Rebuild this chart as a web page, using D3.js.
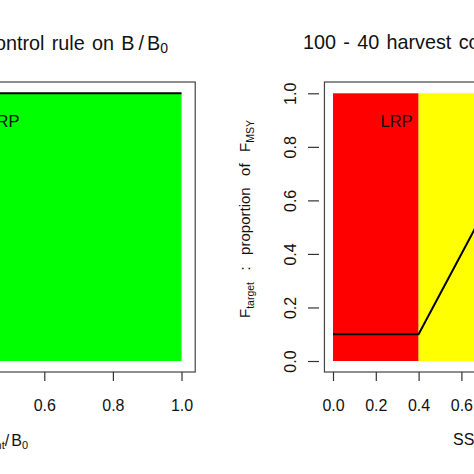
<!DOCTYPE html>
<html>
<head>
<meta charset="utf-8">
<script src="https://cdn.jsdelivr.net/npm/d3@7"></script>
<style>
  body { margin: 0; background: #fff; }
  text { font-family: "Liberation Sans", Arial, sans-serif; fill: #111; }
</style>
</head>
<body>
<svg id="chart" width="474" height="474"></svg>
<script>
// Two harvest control rule panels (cropped).

const xTicks = [0, 0.2, 0.4, 0.6, 0.8, 1.0];
const yTicks = [0, 0.2, 0.4, 0.6, 0.8, 1.0];

// left panel: constant rule on B/B0
const leftZoneFrom = [0];
const leftZoneTo = [1];
const leftZoneColor = ["#00ff00"];
const leftRuleX = [0, 1];
const leftRuleY = [1, 1];
const leftLrpLabelX = 0.545;

// right panel: 100 - 40 rule
const rightZoneFrom = [0, 0.4];
const rightZoneTo = [0.4, 1];
const rightZoneColor = ["#ff0000", "#ffff00"];
const rightRuleX = [0, 0.4, 1.0];
const rightRuleY = [0.1, 0.1, 1.0];
const rightLrpLabelX = 0.4;

const svg = d3.select("#chart");

// shared vertical scale
const y = d3.scaleLinear().domain([0, 1]).range([361, 93.3]);
const boxTop = 82, boxBottom = 372;

function panel(opts) {
    const x = d3.scaleLinear().domain([0, 1]).range(opts.range);
    const g = svg.append("g");

    // coloured zones
    g.selectAll("rect.zone")
        .data(opts.from.map((f, i) => ({from: f, to: opts.to[i], color: opts.colors[i]})))
        .enter().append("rect")
        .attr("class", "zone")
        .attr("x", d => x(d.from))
        .attr("width", d => x(d.to) - x(d.from))
        .attr("y", y(1))
        .attr("height", y(0) - y(1))
        .attr("fill", d => d.color);

    // the rule line
    let line = d3.line().x(d => x(d[0])).y(d => y(d[1]));
    g.append("path")
        .datum(opts.ruleX.map((v, i) => [v, opts.ruleY[i]]))
        .attr("d", line)
        .attr("fill", "none")
        .attr("stroke", "#000")
        .attr("stroke-width", 2);

    // LRP label
    g.append("text")
        .attr("x", x(opts.lrpX) - 6)
        .attr("y", y(0.875))
        .attr("text-anchor", "end")
        .attr("font-size", "16.5px")
        .text("LRP");

    // plot box
    const pad = (opts.range[1] - opts.range[0]) * 0.04;
    g.append("rect")
        .attr("x", opts.range[0] - pad)
        .attr("y", boxTop)
        .attr("width", opts.range[1] - opts.range[0] + 2 * pad)
        .attr("height", boxBottom - boxTop)
        .attr("fill", "none")
        .attr("stroke", "#444")
        .attr("stroke-width", 1.2);

    // x axis
    g.append("g")
        .attr("transform", `translate(0,${boxBottom})`)
        .call(d3.axisBottom(x).tickValues(xTicks).tickSize(9).tickPadding(19)
            .tickFormat(d3.format(".1f")))
        .call(a => a.select(".domain").remove())
        .call(a => a.selectAll("line").attr("stroke", "#333").attr("stroke-width", 1.2))
        .call(a => a.selectAll("text").attr("font-size", "16px")
            .attr("font-family", "Liberation Sans, Arial, sans-serif").attr("fill", "#111"));

    return x;
}

const xl = panel({
    range: [-161.5, 181.5],
    from: leftZoneFrom, to: leftZoneTo, colors: leftZoneColor,
    ruleX: leftRuleX, ruleY: leftRuleY, lrpX: leftLrpLabelX
});

const xr = panel({
    range: [333, 547],
    from: rightZoneFrom, to: rightZoneTo, colors: rightZoneColor,
    ruleX: rightRuleX, ruleY: rightRuleY, lrpX: rightLrpLabelX
});

// y axis on the right panel only (left one is cropped away)
const yAxis = svg.append("g")
    .attr("transform", "translate(319,0)")
    .call(d3.axisLeft(y).tickValues(yTicks).tickSize(11).tickPadding(12)
        .tickFormat(d3.format(".1f")));
yAxis.select(".domain").remove();
yAxis.selectAll("line").attr("stroke", "#333").attr("stroke-width", 1.2);
yAxis.selectAll("text")
    .attr("font-size", "16px")
    .attr("font-family", "Liberation Sans, Arial, sans-serif")
    .attr("fill", "#111")
    .attr("text-anchor", "middle")
    .attr("dy", 0)
    .attr("x", 0)
    .attr("transform", d => `translate(-23,0) rotate(-90)`);

// y axis label, spread so it covers about the same span as the original
const yl = svg.append("text")
    .attr("transform", "translate(250,219) rotate(-90)")
    .attr("text-anchor", "middle")
    .attr("font-size", "15px");
yl.append("tspan").text("F");
yl.append("tspan").attr("dy", 4).attr("font-size", "10.5px").text("target");
yl.append("tspan").attr("dy", -4).text(" : proportion of F");
yl.append("tspan").attr("dy", 4).attr("font-size", "10.5px").text("MSY");
const ylLen = yl.node().getComputedTextLength();
yl.style("word-spacing", Math.max(0, (198 - ylLen) / 4) + "px");

// titles
const t1 = svg.append("text")
    .attr("x", 168)
    .attr("y", 50)
    .attr("text-anchor", "end")
    .attr("font-size", "19.8px")
    .style("word-spacing", "1.8px");
t1.append("tspan").text("Constant harvest control rule on B");
t1.append("tspan").attr("dx", 4).text("/");
t1.append("tspan").attr("dx", 3).text("B");
t1.append("tspan").attr("dy", 3).attr("font-size", "14px").text("0");

svg.append("text")
    .attr("x", 303)
    .attr("y", 49)
    .attr("font-size", "19.8px")
    .style("word-spacing", "1.8px")
    .text("100 - 40 harvest control rule on SSB/B0");

// x labels
const xlab1 = svg.append("text")
    .attr("x", 28)
    .attr("y", 446)
    .attr("text-anchor", "end")
    .attr("font-size", "16px");
xlab1.append("tspan").text("SSB");
xlab1.append("tspan").attr("dy", 3).attr("font-size", "11px").text("current");
xlab1.append("tspan").attr("dy", -3).attr("dx", 0).text("/");
xlab1.append("tspan").attr("dx", 2).text("B");
xlab1.append("tspan").attr("dy", 3).attr("font-size", "11px").text("0");

svg.append("text")
    .attr("x", 453)
    .attr("y", 445)
    .attr("font-size", "16px")
    .text("SSB/B0");
</script>
</body>
</html>
